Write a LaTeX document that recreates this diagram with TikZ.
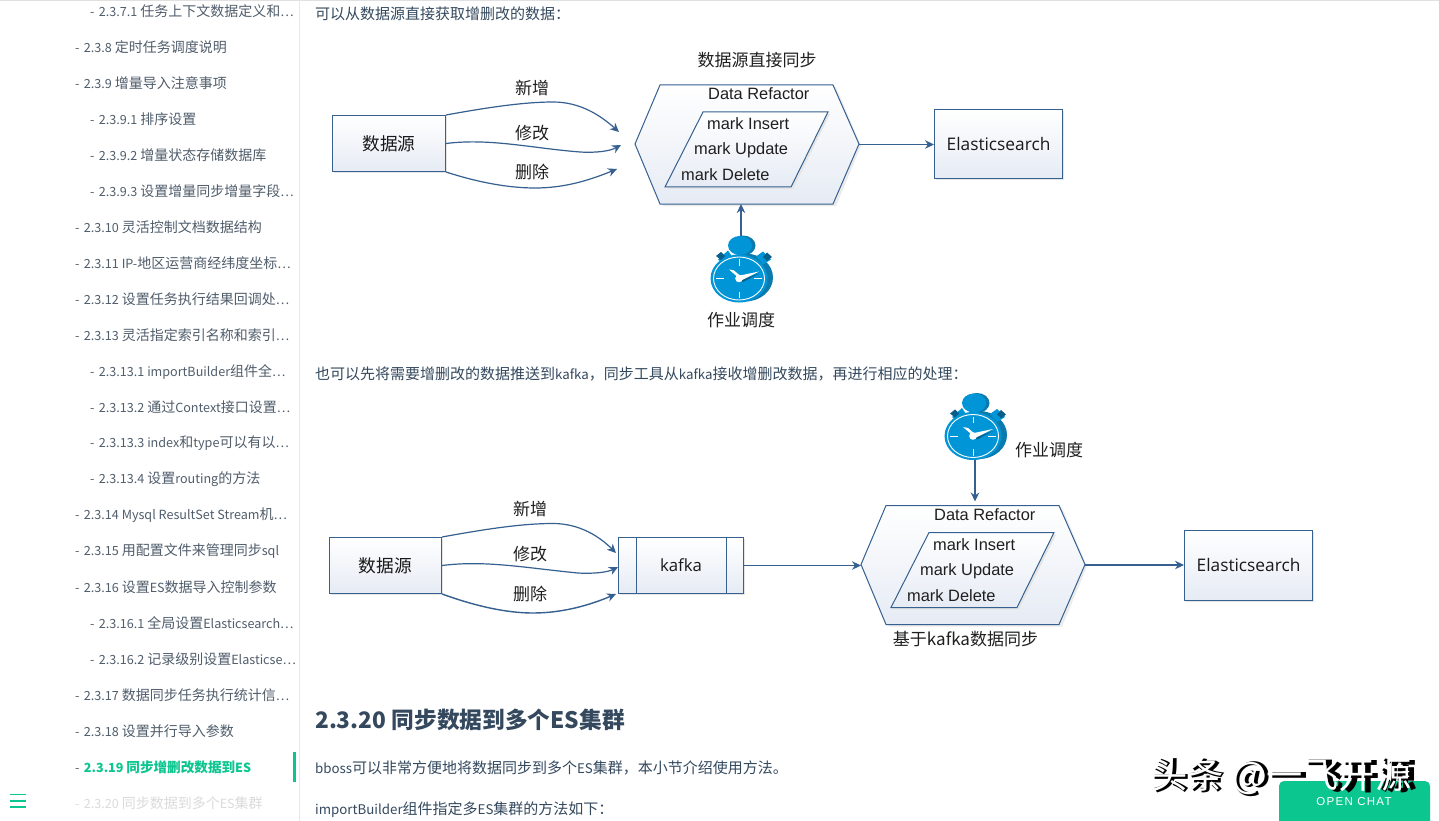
\documentclass[tikz,border=0pt]{standalone}
\usepackage{fontspec}
\setmainfont{Noto Sans CJK SC}
\newfontfamily\lat{Liberation Sans}
\newfontfamily\carl{Open Sans}
\newfontfamily\chatf[LetterSpace=11]{Liberation Sans}
\usetikzlibrary{arrows.meta,calc}
\definecolor{edgeblue}{HTML}{35608F}
\definecolor{boxlow}{HTML}{E6EBF4}
\definecolor{green1}{HTML}{0CC68F}
\definecolor{side}{HTML}{505D6B}
\definecolor{body}{HTML}{34495E}
\definecolor{watch}{HTML}{0095D6}
\definecolor{watchd}{HTML}{0B7BAF}
\definecolor{watchk}{HTML}{0A5F8A}
\newcommand{\C}[1]{{\fontsize{14}{14}\selectfont #1}}
\newcommand{\D}[1]{{\fontsize{15}{15}\selectfont #1}}
\newcommand{\ds}{-\kern1.6pt\ }
\tikzset{
  item/.style={anchor=west,inner sep=0pt,yshift=-.5pt,text=side,font=\fontsize{12.6}{13}\selectfont},
  bodytext/.style={anchor=west,inner sep=0pt,yshift=-.7pt,text=body,font=\fontsize{13.3}{14}\selectfont},
  lbl/.style={inner sep=0pt,text=black!88,font=\fontsize{17}{17}\selectfont},
  marklbl/.style={anchor=base west,inner sep=0pt,text=black!88,font=\lat\fontsize{16.4}{16}\selectfont},
  boxshape/.style={draw=edgeblue,line width=1pt,top color=white,bottom color=boxlow,
     inner sep=0pt,anchor=north west},
  conn/.style={draw=edgeblue,line width=1.2pt,-{Stealth[length=9pt,width=8.5pt]}},
  anch/.style={inner sep=0pt,outer sep=0pt,draw=none,rectangle},
}
\newcommand{\stopw}[3]{% name, x, y = face centre
  \begin{scope}[shift={(#2,#3)}]
    \fill[watchd] (6,-1) ellipse [x radius=28,y radius=24];
    \fill[watchd] (4,-33) ellipse [x radius=12.5,y radius=10];
    \fill[watch] (1,-33) ellipse [x radius=12,y radius=9.5];
    \fill[watch] (-21,-19) -- (-11,-28) -- (-7,-22) -- (-16,-14) -- cycle;
    \fill[watch] (32,-19) -- (24,-27) -- (17,-22) -- (24,-14) -- cycle;
    \fill[watchk] (-18,-26.5) -- (-14,-22.5) -- (-18,-18.5) -- (-23,-22.5) -- cycle;
    \fill[watchk] (28,-26) -- (33,-21.5) -- (28,-17.5) -- (24,-21.5) -- cycle;
    \fill[watch] (0,0) ellipse [x radius=28.5,y radius=24];
    \draw[white,line width=.9pt] (0,0) ellipse [x radius=25.5,y radius=21.5];
    \draw[white,line width=1pt] (0,-19.5)--(0,-13) (0,19.5)--(0,13) (-23,0)--(-15,0) (23,0)--(15,0);
    \fill[watchk] (2,1.5) -- (20,-5) -- (4,3.5) -- cycle;
    \fill[white] (-2,-2) -- (-10,-9) -- (-5,-8) -- (2,-2) -- cycle;
    \fill[white] (1,-3) -- (20,-7) -- (3,1.5) -- cycle;
    \fill[white] (0,0) circle (3.8);
    \node[anch,minimum width=60pt,minimum height=67pt] (#1) at (2,-9.5) {};
  \end{scope}
}
\newcommand{\hexa}[3]{% name, dx, dy
  \begin{scope}[shift={(#2,#3)}]
    \fill[black!8] (663,87) -- (836,87) -- (861,146) -- (836,206) -- (663,206) -- (637,146) -- cycle;
    \path[draw=edgeblue,line width=1pt,top color=white,bottom color=boxlow]
      (660,85) -- (833,85) -- (859,144) -- (833,204) -- (660,204) -- (635,144) -- cycle;
    \fill[black!10] (705,114) -- (830,114) -- (793,189) -- (667,189) -- cycle;
    \path[draw=edgeblue,line width=1pt,top color=white,bottom color=boxlow]
      (703,112) -- (828,112) -- (791,187) -- (665,187) -- cycle;
    \node[anch,minimum width=224pt,minimum height=119pt] (#1) at (747,144.5) {};
    \node[marklbl] (#1t) at (708,100) {Data Refactor};
    \node[marklbl] (#1a) at (707,130) {mark Insert};
    \node[marklbl] (#1b) at (694,155) {mark Update};
    \node[marklbl] (#1c) at (681,181) {mark Delete};
  \end{scope}
}
\begin{document}
\begin{tikzpicture}[x=1pt,y=-1pt]
\useasboundingbox (0,0) rectangle (1439,821);
\fill[white] (0,0) rectangle (1439,821);
\draw[black!12,line width=.8pt] (0,0.4) -- (1439,0.4);
\draw[black!9,line width=1pt] (299.5,0) -- (299.5,821);
% sidebar
\node[item] (s1) at (90,11) {\ds 2.3.7.1 \C{任务上下文数据定义和}…};
\node[item] (s2) at (75,47) {\ds 2.3.8 \C{定时任务调度说明}};
\node[item] (s3) at (75,83) {\ds 2.3.9 \C{增量导入注意事项}};
\node[item] (s4) at (90,119) {\ds 2.3.9.1 \C{排序设置}};
\node[item] (s5) at (90,155) {\ds 2.3.9.2 \C{增量状态存储数据库}};
\node[item] (s6) at (90,191) {\ds 2.3.9.3 \C{设置增量同步增量字段}…};
\node[item] (s7) at (75,227) {\ds 2.3.10 \C{灵活控制文档数据结构}};
\node[item] (s8) at (75,263) {\ds 2.3.11 IP-\C{地区运营商经纬度坐标}…};
\node[item] (s9) at (75,299) {\ds 2.3.12 \C{设置任务执行结果回调处}…};
\node[item] (s10) at (75,335) {\ds 2.3.13 \C{灵活指定索引名称和索引}…};
\node[item] (s11) at (90,371) {\ds 2.3.13.1 importBuilder\C{组件全}…};
\node[item] (s12) at (90,407) {\ds 2.3.13.2 \C{通过}Context\C{接口设置}…};
\node[item] (s13) at (90,443) {\ds 2.3.13.3 index\C{和}type\C{可以有以}…};
\node[item] (s14) at (90,479) {\ds 2.3.13.4 \C{设置}routing\C{的方法}};
\node[item] (s15) at (75,515) {\ds 2.3.14 Mysql ResultSet Stream\C{机}…};
\node[item] (s16) at (75,551) {\ds 2.3.15 \C{用配置文件来管理同步}sql};
\node[item] (s17) at (75,587) {\ds 2.3.16 \C{设置}ES\C{数据导入控制参数}};
\node[item] (s18) at (90,623) {\ds 2.3.16.1 \C{全局设置}Elasticsearch…};
\node[item] (s19) at (90,659) {\ds 2.3.16.2 \C{记录级别设置}Elasticse…};
\node[item] (s20) at (75,695) {\ds 2.3.17 \C{数据同步任务执行统计信}…};
\node[item] (s21) at (75,731) {\ds 2.3.18 \C{设置并行导入参数}};
\node[item] (s22) at (75,767) {\ds \textcolor{green1}{\bfseries 2.3.19 {\fontsize{13.6}{14}\selectfont 同步增删改数据到}ES}};
\node[item,text=black!14] (s23) at (75,803) {\ds 2.3.20 \C{同步数据到多个}ES\C{集群}};
\fill[green1] (293,752) rectangle (295.5,782);
\draw[green1,line width=1.6pt] (10,794.5)--(26,794.5) (10,801)--(26,801) (10,807)--(26,807);
% body text
\node[bodytext] (t1) at (315,13) {\D{可以从数据源直接获取增删改的数据：}};
\node[bodytext] (t2) at (315,373) {\D{也可以先将需要增删改的数据推送到}kafka\D{，同步工具从}kafka\D{接收增删改数据，再进行相应的处理：}};
\node[anchor=west,inner sep=0pt,text=body,font=\fontsize{22.7}{23}\selectfont\bfseries] (h1) at (315,720) {2.3.20 同步数据到多个ES集群};
\node[bodytext] (t3) at (315,767) {bboss\D{可以非常方便地将数据同步到多个}ES\D{集群，本小节介绍使用方法。}};
\node[bodytext] (t4) at (315,809) {importBuilder\D{组件指定多}ES\D{集群的方法如下：}};
% diagram 1
\fill[black!10] (334,117) rectangle (447,173);
\node[boxshape,minimum width=113pt,minimum height=56pt,font=\fontsize{17.7}{18}\selectfont,text=black!90] (src1) at (332,115) {\raisebox{-1pt}{数据源}\hspace{3pt}};
\hexa{hexA}{0}{0}
\fill[black!10] (936,111) rectangle (1064,180);
\node[boxshape,minimum width=128pt,minimum height=69pt,font=\carl\fontsize{17.3}{17}\selectfont,text=black!90] (es1) at (934,109) {Elasticsearch\hspace{2pt}};
\node[lbl] (title1) at (757,60) {数据源直接同步};
\coordinate (a1) at (619,132);
\coordinate (a2) at (621,145);
\coordinate (a3) at (617,169);
\draw[conn] (src1.north east) .. controls (490,107) and (525,102) .. (553,102) .. controls (580,102) and (600,115) .. (a1);
\draw[conn] (src1.east) .. controls (490,138) and (530,148) .. (580,152) .. controls (597,153) and (610,151) .. (a2);
\draw[conn] (src1.south east) .. controls (480,183) and (510,188) .. (535,188) .. controls (565,188) and (590,180) .. (a3);
\node[lbl] (l1) at (532,88) {新增};
\node[lbl] (l2) at (532,133) {修改};
\node[lbl] (l3) at (532,172) {删除};
\draw[conn] (hexA.east) -- (hexA.east -| es1.west);
\stopw{w1}{739}{278.5}
\draw[conn] (w1.north) -- (w1.north |- hexA.south);
\node[lbl] (wl1) at (741,320) {作业调度};
% diagram 2
\fill[black!10] (331,539) rectangle (443,595);
\node[boxshape,minimum width=112pt,minimum height=56pt,font=\fontsize{17.7}{18}\selectfont,text=black!90] (src2) at (329,537) {\raisebox{-1pt}{数据源}\hspace{3pt}};
\fill[black!10] (620,539) rectangle (745,595);
\node[boxshape,minimum width=125pt,minimum height=56pt,font=\carl\fontsize{16.8}{17}\selectfont,text=black!90] (kafka) at (618,537) {kafka\hspace{4pt}};
\draw[edgeblue,line width=1pt] (636,537) -- (636,593) (726,537) -- (726,593);
\hexa{hexB}{226}{420.5}
\fill[black!10] (1186,532) rectangle (1314,602);
\node[boxshape,minimum width=128pt,minimum height=70pt,font=\carl\fontsize{17.3}{17}\selectfont,text=black!90] (es2) at (1184,530) {Elasticsearch\hspace{2pt}};
\node[lbl] (title2) at (965.5,639) {基于kafka数据同步};
\coordinate (b1) at (616,553);
\coordinate (b2) at (618,567);
\coordinate (b3) at (616,594);
\draw[conn] (src2.north east) .. controls (486,529) and (522,523.5) .. (553,523.5) .. controls (580,523.5) and (600,537) .. (b1);
\draw[conn] (src2.east) .. controls (486,560) and (526,568) .. (578,573) .. controls (595,574) and (608,572) .. (b2);
\draw[conn,line width=1.4pt] (src2.south east) .. controls (478,607) and (508,613) .. (533,613) .. controls (563,613) and (590,605) .. (b3);
\node[lbl] (l4) at (530,509) {新增};
\node[lbl] (l5) at (530,554) {修改};
\node[lbl] (l6) at (530,594) {删除};
\draw[conn] (kafka.east) -- (kafka.east -| hexB.west);
\draw[conn] (hexB.east) -- (hexB.east -| es2.west);
\stopw{w2}{973}{436}
\draw[conn,shorten >=4pt] (w2.south) -- (w2.south |- hexB.north);
\node[lbl] (wl2) at (1049,450) {作业调度};
% button and watermark
\path[fill=green1,rounded corners=5pt] (1279,830) -- (1279,781) -- (1430,781) -- (1430,830) -- cycle;
\node[inner sep=0pt,text=white,font=\chatf\fontsize{11.5}{11.5}\selectfont] (chat) at (1354,802) {OPEN CHAT};
\node[inner sep=0pt,anchor=west,text=black,font=\fontsize{36.2}{37}\selectfont\bfseries] (wm) at (1153,778) {头条 @一飞开源};
\node[inner sep=0pt,anchor=west,text=white,font=\fontsize{36.2}{37}\selectfont] (wm0) at (1151.5,776.5) {头条 @一飞开源};
\end{tikzpicture}
\end{document}
